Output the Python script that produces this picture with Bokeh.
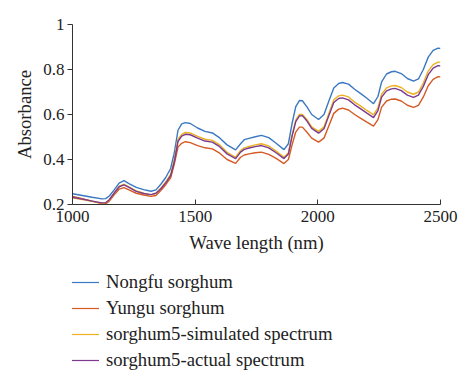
from bokeh.plotting import figure
from bokeh.layouts import column
from bokeh.models import Legend, LegendItem, Range1d, FixedTicker, CustomJSTickFormatter
from bokeh.embed import file_html
from bokeh.resources import INLINE

# NIR absorbance spectra of sorghum samples
wavelength = [1000, 1040, 1080, 1120, 1135, 1150, 1170, 1190, 1210, 1230, 1260, 1290,
              1320, 1340, 1360, 1380, 1400, 1415, 1430, 1445, 1460, 1480, 1510, 1540,
              1570, 1600, 1630, 1665, 1685, 1700, 1720, 1745, 1770, 1800, 1830, 1862,
              1880, 1895, 1910, 1925, 1937, 1955, 1975, 2003, 2025, 2045, 2065, 2085,
              2100, 2125, 2150, 2175, 2200, 2227, 2245, 2260, 2280, 2300, 2315, 2340,
              2365, 2390, 2410, 2430, 2450, 2470, 2490, 2500]

nongfu = [0.248, 0.240, 0.232, 0.225, 0.226, 0.238, 0.265, 0.295, 0.306, 0.293, 0.276, 0.266,
          0.259, 0.265, 0.290, 0.320, 0.360, 0.430, 0.530, 0.558, 0.564, 0.560, 0.540, 0.525,
          0.518, 0.496, 0.465, 0.443, 0.470, 0.488, 0.494, 0.501, 0.507, 0.497, 0.472, 0.444,
          0.470, 0.560, 0.635, 0.662, 0.661, 0.635, 0.600, 0.578, 0.600, 0.660, 0.718, 0.738,
          0.742, 0.735, 0.712, 0.693, 0.672, 0.648, 0.680, 0.745, 0.780, 0.790, 0.792, 0.782,
          0.760, 0.748, 0.758, 0.800, 0.855, 0.885, 0.895, 0.894]

yungu = [0.236, 0.226, 0.215, 0.203, 0.203, 0.215, 0.243, 0.268, 0.275, 0.265, 0.250, 0.242,
         0.236, 0.240, 0.262, 0.288, 0.318, 0.380, 0.455, 0.472, 0.479, 0.475, 0.462, 0.452,
         0.447, 0.428, 0.400, 0.383, 0.410, 0.420, 0.425, 0.430, 0.433, 0.423, 0.405, 0.382,
         0.400, 0.465, 0.522, 0.544, 0.544, 0.522, 0.495, 0.477, 0.495, 0.550, 0.605, 0.624,
         0.628, 0.620, 0.600, 0.583, 0.566, 0.548, 0.577, 0.633, 0.660, 0.668, 0.669, 0.660,
         0.641, 0.632, 0.641, 0.678, 0.728, 0.756, 0.768, 0.767]

simulated = [0.230, 0.222, 0.214, 0.206, 0.207, 0.220, 0.250, 0.280, 0.290, 0.278, 0.260, 0.250,
             0.243, 0.250, 0.272, 0.300, 0.335, 0.400, 0.490, 0.512, 0.520, 0.518, 0.503, 0.490,
             0.485, 0.465, 0.432, 0.410, 0.440, 0.452, 0.458, 0.465, 0.470, 0.460, 0.437, 0.410,
             0.430, 0.510, 0.575, 0.600, 0.600, 0.578, 0.545, 0.525, 0.545, 0.605, 0.665, 0.683,
             0.686, 0.678, 0.655, 0.637, 0.618, 0.598, 0.630, 0.690, 0.718, 0.727, 0.729, 0.720,
             0.700, 0.690, 0.700, 0.740, 0.793, 0.822, 0.833, 0.833]

actual = [0.232, 0.224, 0.215, 0.207, 0.208, 0.221, 0.251, 0.279, 0.287, 0.276, 0.258, 0.249,
          0.244, 0.250, 0.270, 0.296, 0.328, 0.390, 0.480, 0.504, 0.512, 0.510, 0.495, 0.482,
          0.477, 0.457, 0.425, 0.404, 0.433, 0.445, 0.451, 0.457, 0.462, 0.452, 0.430, 0.404,
          0.424, 0.503, 0.568, 0.594, 0.595, 0.572, 0.538, 0.517, 0.537, 0.595, 0.653, 0.671,
          0.674, 0.665, 0.643, 0.625, 0.606, 0.586, 0.617, 0.677, 0.705, 0.714, 0.716, 0.706,
          0.686, 0.676, 0.686, 0.725, 0.777, 0.806, 0.817, 0.816]

series_names = ["Nongfu sorghum", "Yungu sorghum",
                "sorghum5-simulated spectrum", "sorghum5-actual spectrum"]
series_colors = ["#3A78C2", "#D65A24", "#EDB120", "#7B3A90"]
series_values = [nongfu, yungu, simulated, actual]
x_ticks = [1000, 1500, 2000, 2500]
y_ticks = [0.2, 0.4, 0.6, 0.8, 1.0]

FONT = "Liberation Serif"
INK = "#222222"

# --- spectra panel ---
p = figure(width=474, height=262, output_backend="svg", toolbar_location=None,
           x_range=Range1d(1000, 2500), y_range=Range1d(0.2, 1.0),
           min_border_left=72, min_border_right=34, min_border_top=24,
           min_border_bottom=58)
p.outline_line_color = None
p.grid.visible = False

for ys, c in zip(series_values, series_colors):
    p.line(wavelength, ys, line_color=c, line_width=1.4)

p.xaxis.ticker = FixedTicker(ticks=x_ticks)
p.yaxis.ticker = FixedTicker(ticks=y_ticks)
p.yaxis.formatter = CustomJSTickFormatter(code="return Number(tick.toFixed(1)).toString();")

for ax in (p.xaxis[0], p.yaxis[0]):
    ax.axis_line_color = "#333333"
    ax.major_tick_line_color = "#333333"
    ax.minor_tick_line_color = None
    ax.major_label_text_font = FONT
    ax.major_label_text_font_size = "17px"
    ax.major_label_text_color = INK
    ax.axis_label_text_font = FONT
    ax.axis_label_text_font_size = "18.7px"
    ax.axis_label_text_font_style = "normal"
    ax.axis_label_text_color = INK

p.xaxis.major_tick_in = 5
p.xaxis.major_tick_out = 0
p.yaxis.major_tick_in = 0
p.yaxis.major_tick_out = 5
p.xaxis.axis_label = "Wave length (nm)"
p.yaxis.axis_label = "Absorbance"
p.xaxis.major_label_standoff = 6
p.yaxis.major_label_standoff = 3
p.xaxis.axis_label_standoff = 7
p.yaxis.axis_label_standoff = 5

# --- legend panel below the axis title (its frame lines up with the one above) ---
lg = figure(width=474, height=121, output_backend="svg", toolbar_location=None,
            x_range=Range1d(0, 1), y_range=Range1d(0, 1),
            min_border=0, x_axis_location=None, y_axis_location=None)
lg.outline_line_color = None
lg.grid.visible = False

keys = []
for ys, c in zip(series_values, series_colors):
    r = lg.line(wavelength, ys, line_color=c, line_width=1.2, visible=False)
    keys.append(r)

legend = Legend(items=[LegendItem(label=n, renderers=[r]) for n, r in zip(series_names, keys)],
                location=(-2, 12), orientation="vertical",
                label_text_font=FONT, label_text_font_size="18.7px", label_text_color=INK,
                glyph_width=29, glyph_height=20, label_height=20, spacing=4,
                label_standoff=7, padding=2, margin=0, border_line_color=None,
                background_fill_alpha=0, inactive_fill_alpha=0)
lg.add_layout(legend)

page = column(p, lg, spacing=0)
open("out.html", "w").write(file_html(page, INLINE))
